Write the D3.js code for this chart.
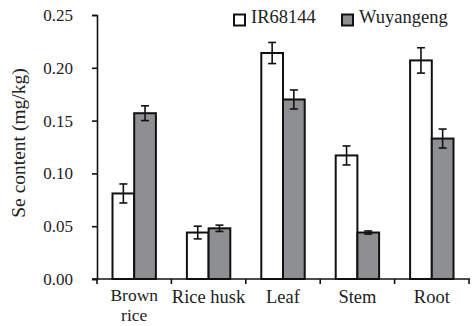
<!DOCTYPE html>
<html>
<head>
<meta charset="utf-8">
<script src="https://cdn.jsdelivr.net/npm/d3@7/dist/d3.min.js"></script>
<style>
  html, body { margin: 0; padding: 0; background: #fff; }
  svg { display: block; }
  text { font-family: "Liberation Serif", "DejaVu Serif", serif; fill: #222; }
</style>
</head>
<body>
<svg id="chart" width="474" height="326"></svg>
<script>
// Selenium content by plant part for two rice cultivars
const categories = ["Brown rice", "Rice husk", "Leaf", "Stem", "Root"];
const seriesNames = ["IR68144", "Wuyangeng"];
const ir68144 = [0.081, 0.044, 0.214, 0.117, 0.207];
const ir68144Err = [0.009, 0.006, 0.010, 0.009, 0.012];
const wuyangeng = [0.157, 0.048, 0.170, 0.044, 0.133];
const wuyangengErr = [0.007, 0.003, 0.009, 0.0015, 0.009];
const yTicks = [0, 0.05, 0.10, 0.15, 0.20, 0.25];

const svg = d3.select("#chart");
const plotLeft = 97, plotRight = 469, plotTop = 15, plotBottom = 279;
const fills = ["#ffffff", "#8e8f93"];
const groupW = 43.4;

const x = d3.scaleBand().domain(categories).range([plotLeft, plotRight]).paddingInner(0).paddingOuter(0);
const x1 = d3.scaleBand().domain(seriesNames).range([0, groupW]);
const y = d3.scaleLinear().domain([0, 0.25]).range([plotBottom, plotTop]);

const rows = categories.map((c, i) => ({
  cat: c,
  vals: [
    { s: seriesNames[0], v: ir68144[i], e: ir68144Err[i] },
    { s: seriesNames[1], v: wuyangeng[i], e: wuyangengErr[i] }
  ]
}));

// Bars
const groups = svg.append("g").selectAll("g").data(rows).join("g")
  .attr("transform", d => `translate(${x(d.cat) + (x.bandwidth() - groupW) / 2},0)`);

groups.selectAll("rect").data(d => d.vals).join("rect")
  .attr("x", d => x1(d.s))
  .attr("y", d => y(d.v))
  .attr("width", x1.bandwidth())
  .attr("height", d => y(0) - y(d.v))
  .attr("fill", (d, i) => fills[i])
  .attr("stroke", "#111")
  .attr("stroke-width", 2);

// Error bars
const eb = groups.selectAll("g.err").data(d => d.vals).join("g").attr("class", "err")
  .attr("transform", d => `translate(${x1(d.s) + x1.bandwidth() / 2},0)`);
eb.append("line").attr("x1", 0).attr("x2", 0)
  .attr("y1", d => y(d.v - d.e)).attr("y2", d => y(d.v + d.e));
eb.append("line").attr("x1", -4).attr("x2", 4)
  .attr("y1", d => y(d.v + d.e)).attr("y2", d => y(d.v + d.e));
eb.append("line").attr("x1", -4).attr("x2", 4)
  .attr("y1", d => y(d.v - d.e)).attr("y2", d => y(d.v - d.e));
eb.selectAll("line").attr("stroke", "#111").attr("stroke-width", 1.6);

// Y axis
const yAxis = svg.append("g").attr("transform", `translate(${plotLeft},0)`)
  .call(d3.axisLeft(y).tickValues(yTicks).tickFormat(d3.format(".2f")).tickSize(5).tickPadding(19));
yAxis.select(".domain").attr("stroke", "#111").attr("stroke-width", 1.6);
yAxis.selectAll(".tick line").attr("stroke", "#111").attr("stroke-width", 1.6);
yAxis.selectAll(".tick text").attr("font-size", 17).attr("fill", "#222")
  .attr("font-family", "Liberation Serif, DejaVu Serif, serif");

// X axis: ticks sit at band boundaries
const xAxisG = svg.append("g").attr("transform", `translate(0,${plotBottom})`);
xAxisG.append("line").attr("x1", plotLeft - 5).attr("x2", plotRight + 1)
  .attr("stroke", "#111").attr("stroke-width", 1.6);
const bounds = categories.map(c => x(c)).concat([x(categories[categories.length - 1]) + x.bandwidth()]);
xAxisG.selectAll("line.t").data(bounds).join("line").attr("class", "t")
  .attr("x1", d => d).attr("x2", d => d).attr("y1", 0).attr("y2", 5)
  .attr("stroke", "#111").attr("stroke-width", 1.6);

// Category labels; "Brown rice" wraps onto two slightly smaller lines
categories.forEach(d => {
  const wrapped = d === "Brown rice";
  const lines = wrapped ? ["Brown", "rice"] : [d];
  lines.forEach((ln, i) => {
    xAxisG.append("text")
      .attr("x", x(d) + x.bandwidth() / 2)
      .attr("y", wrapped ? 21.5 + i * 20 : 23.5)
      .attr("text-anchor", "middle")
      .attr("font-size", wrapped ? 17.5 : 18.5)
      .text(ln);
  });
});

// Y axis title
svg.append("text")
  .attr("transform", `translate(25,143) rotate(-90)`)
  .attr("text-anchor", "middle")
  .attr("font-size", 19.5)
  .text("Se content (mg/kg)");

// Legend
const legend = svg.append("g");
const legX = [234, 342];
seriesNames.forEach((s, i) => {
  legend.append("rect").attr("x", legX[i]).attr("y", 14.5).attr("width", 11).attr("height", 11)
    .attr("fill", fills[i]).attr("stroke", "#111").attr("stroke-width", 2);
  legend.append("text").attr("x", legX[i] + 17).attr("y", 22.5).attr("font-size", 18.5).text(s);
});
</script>
</body>
</html>
